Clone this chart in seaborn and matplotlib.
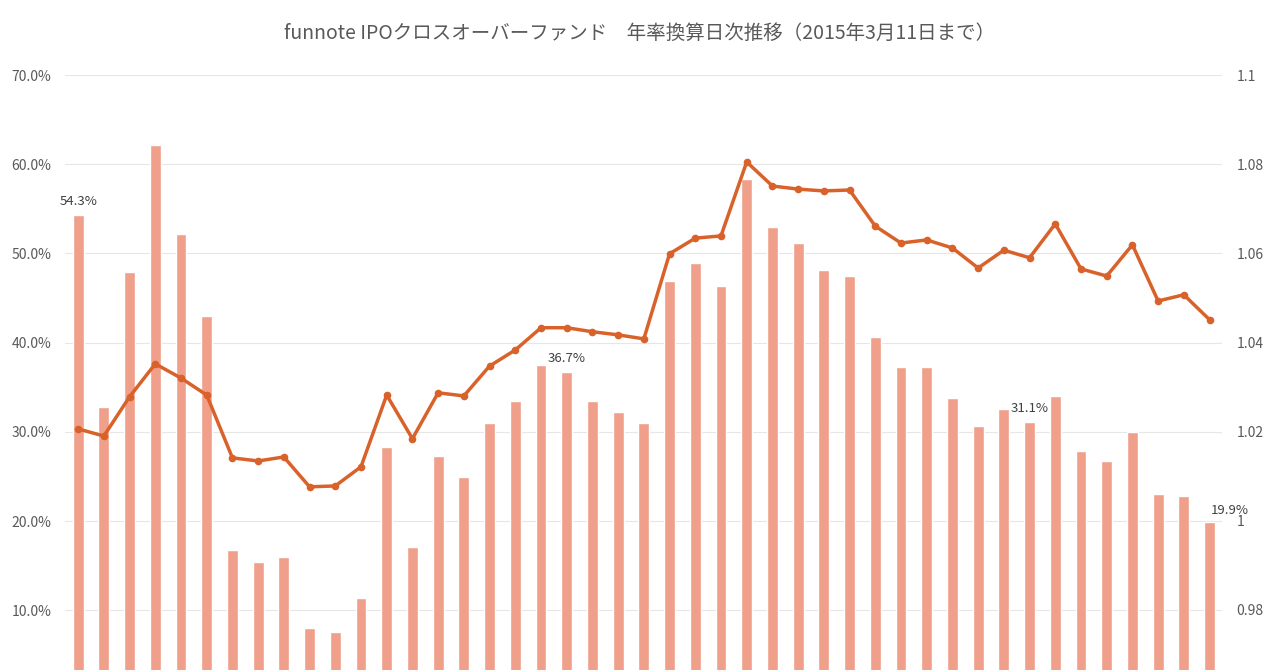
import numpy as np
import pandas as pd
import matplotlib
matplotlib.use("Agg")
import matplotlib.pyplot as plt
import seaborn as sns

# annualized return (%) per day, bars
annual_pct = [54.3, 32.8, 47.9, 62.2, 52.2, 43.0, 16.8, 15.4, 16.0, 8.0, 7.6, 11.4,
              28.3, 17.1, 27.3, 24.9, 31.0, 33.5, 37.5, 36.7, 33.5, 32.2, 31.0,
              46.9, 48.9, 46.3, 58.4, 53.0, 51.2, 48.1, 47.5, 40.6, 37.3, 37.3,
              33.8, 30.6, 32.6, 31.1, 34.0, 27.9, 26.7, 30.0, 23.0, 22.8, 19.9]
# fund value index, line (right axis)
nav = [1.0206, 1.0190, 1.0278, 1.0352, 1.0320, 1.0282, 1.0141, 1.0134, 1.0143,
       1.0076, 1.0078, 1.0121, 1.0282, 1.0184, 1.0287, 1.0280, 1.0347, 1.0383,
       1.0433, 1.0433, 1.0424, 1.0417, 1.0408, 1.0599, 1.0634, 1.0639, 1.0805,
       1.0751, 1.0744, 1.0740, 1.0742, 1.0661, 1.0623, 1.0630, 1.0612, 1.0567,
       1.0607, 1.0590, 1.0666, 1.0565, 1.0549, 1.0619, 1.0493, 1.0507, 1.0451]
labelled = {0: "54.3%", 19: "36.7%", 37: "31.1%", 44: "19.9%"}

df = pd.DataFrame({"idx": range(len(annual_pct)), "pct": annual_pct, "nav": nav})

sns.set_style("white")
plt.rcParams['font.family'] = ['Noto Sans CJK JP', 'DejaVu Sans']

fig = plt.figure(figsize=(12.8, 6.7), dpi=100)
ax = fig.add_axes([0.051, 0.0, 0.904, 0.888])
ax.set_axisbelow(True)
ax.grid(axis="y", color="#E6E6E6", linewidth=0.8)
sns.barplot(data=df, x="idx", y="pct", color="#F0A08A", saturation=1, width=0.42, ax=ax)
ax.set_ylim(3.3, 70)
ax.set_xlim(-0.5, len(df) - 0.5)
ax.set_yticks(np.arange(10, 71, 10))
ax.set_yticklabels([f"{v:.1f}%" for v in np.arange(10, 71, 10)], fontsize=10, color="#595959")
ax.set_xticks([])
ax.set_xlabel(""); ax.set_ylabel("")
for s in ax.spines.values():
    s.set_visible(False)
ax.tick_params(left=False, length=0, pad=10)
for i, t in labelled.items():
    if i == len(df) - 1:
        ax.text(i + 0.05, annual_pct[i] + 0.6, t, ha="left", va="bottom", fontsize=9.5, color="#404040")
    else:
        ax.text(i, annual_pct[i] + 0.8, t, ha="center", va="bottom", fontsize=9.5, color="#404040")

ax2 = ax.twinx()
sns.lineplot(data=df, x="idx", y="nav", color="#D9622B", linewidth=2.5, marker="o",
             markersize=5.5, markeredgewidth=0, ax=ax2)
ax2.set_ylim(0.9665, 1.1)
ax2.set_yticks([0.98, 1.0, 1.02, 1.04, 1.06, 1.08, 1.1])
ax2.set_yticklabels(["0.98", "1", "1.02", "1.04", "1.06", "1.08", "1.1"], fontsize=10, color="#595959")
ax2.set_xlabel(""); ax2.set_ylabel("")
for s in ax2.spines.values():
    s.set_visible(False)
ax2.tick_params(right=False, length=0, pad=10)
ax2.set_xlim(-0.5, len(df) - 0.5)

fig.text(0.5, 0.95, "funnote IPOクロスオーバーファンド　年率換算日次推移（2015年3月11日まで）",
         ha="center", va="center", fontsize=14, color="#595959")
fig.savefig("out.png", dpi=100)
